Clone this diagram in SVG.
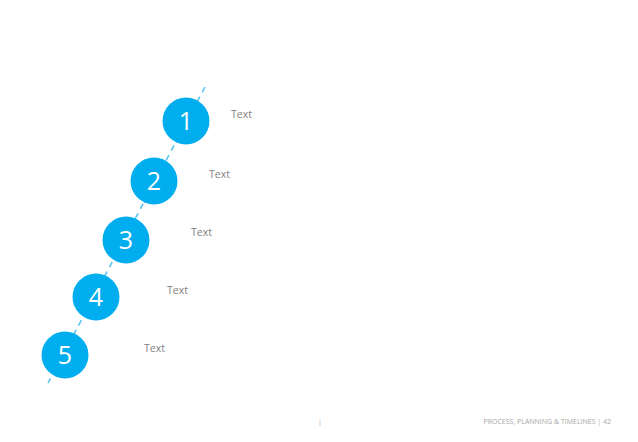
<svg xmlns="http://www.w3.org/2000/svg" width="638" height="442" viewBox="0 0 638 442">
<style>
.c{fill:#00aeef}
.n{font-family:"Open Sans","Liberation Sans",sans-serif;font-size:25px;fill:#fff;text-anchor:middle}
.t{font-family:"Open Sans","Liberation Sans",sans-serif;font-size:10.5px;fill:#7f7f7f}
.f{font-family:"Open Sans","Liberation Sans",sans-serif;font-size:7px;fill:#a6a6a6}
</style>
<rect width="638" height="442" fill="#fff"/>
<g id="connectors">
<line x1="205" y1="87" x2="48" y2="383" stroke="#5bc5f2" stroke-width="1.6" stroke-dasharray="6,5"/>
</g>
<g id="node1"><circle class="c" cx="186" cy="121" r="23.5"/><text class="n" x="186" y="130">1</text><text class="t" x="231" y="118">Text</text></g>
<g id="node2"><circle class="c" cx="154" cy="181" r="23.5"/><text class="n" x="154" y="190">2</text><text class="t" x="209" y="178">Text</text></g>
<g id="node3"><circle class="c" cx="126" cy="240" r="23.5"/><text class="n" x="126" y="249">3</text><text class="t" x="191" y="236">Text</text></g>
<g id="node4"><circle class="c" cx="96" cy="297" r="23.5"/><text class="n" x="96" y="306">4</text><text class="t" x="167" y="294">Text</text></g>
<g id="node5"><circle class="c" cx="65" cy="355" r="23.5"/><text class="n" x="65" y="364">5</text><text class="t" x="144" y="352">Text</text></g>
<text class="f" x="318" y="424">|</text>
<text class="f" x="611" y="424" text-anchor="end">PROCESS, PLANNING &amp; TIMELINES  | 42</text>
</svg>
